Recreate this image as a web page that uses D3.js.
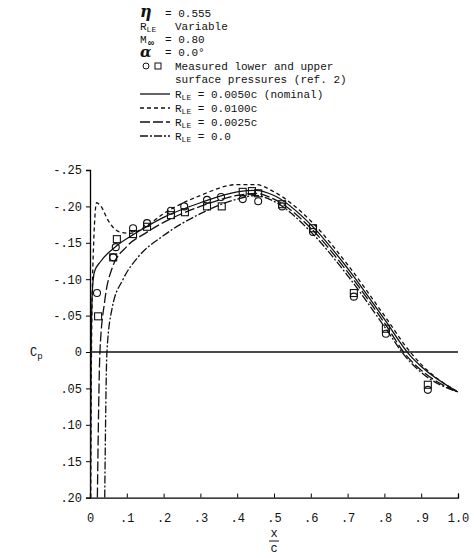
<!DOCTYPE html>
<html><head><meta charset="utf-8">
<script src="https://cdn.jsdelivr.net/npm/d3@7"></script>
<style>body{margin:0;background:#fff}text{font-family:"Liberation Mono",monospace;fill:#111}</style>
</head><body><div id="chart"></div>
<script>
const width = 474, height = 558;

// measured pressures (ref. 2)
const circles = [[0.019,-0.081],[0.063,-0.13],[0.07,-0.144],[0.117,-0.17],[0.155,-0.177],[0.22,-0.194],[0.256,-0.2],[0.318,-0.209],[0.356,-0.213],[0.415,-0.21],[0.457,-0.207],[0.522,-0.2],[0.606,-0.165],[0.717,-0.076],[0.804,-0.025],[0.918,0.052]];
const squares = [[0.022,-0.049],[0.063,-0.13],[0.073,-0.155],[0.117,-0.162],[0.155,-0.172],[0.22,-0.188],[0.258,-0.192],[0.318,-0.2],[0.358,-0.2],[0.415,-0.22],[0.44,-0.221],[0.457,-0.218],[0.522,-0.203],[0.606,-0.17],[0.717,-0.081],[0.804,-0.032],[0.918,0.045]];

// computed curves
const rle0050 = [[0.001,0.2],[0.003,0],[0.006,-0.08],[0.012,-0.11],[0.03,-0.125],[0.07,-0.145],[0.12,-0.162],[0.2,-0.185],[0.3,-0.205],[0.4,-0.22],[0.45,-0.222],[0.5,-0.215],[0.6,-0.175],[0.7,-0.115],[0.8,-0.045],[0.87,0.005],[0.9,0.02],[1.0,0.055]];
const rle0100 = [[0.002,0.2],[0.004,0],[0.01,-0.15],[0.018,-0.205],[0.03,-0.2],[0.05,-0.18],[0.08,-0.165],[0.11,-0.163],[0.15,-0.172],[0.2,-0.19],[0.3,-0.215],[0.4,-0.23],[0.45,-0.23],[0.5,-0.22],[0.6,-0.18],[0.7,-0.12],[0.8,-0.05],[0.87,0.0],[0.9,0.017],[1.0,0.055]];
const rle0025 = [[0.02,0.2],[0.027,0],[0.04,-0.07],[0.06,-0.115],[0.1,-0.145],[0.15,-0.163],[0.2,-0.178],[0.3,-0.2],[0.4,-0.215],[0.45,-0.218],[0.5,-0.21],[0.6,-0.17],[0.7,-0.11],[0.8,-0.04],[0.86,0.005],[0.9,0.025],[1.0,0.055]];
const rle0 = [[0.04,0.2],[0.046,0],[0.06,-0.06],[0.09,-0.1],[0.13,-0.13],[0.2,-0.16],[0.3,-0.19],[0.4,-0.21],[0.45,-0.215],[0.5,-0.207],[0.6,-0.165],[0.7,-0.105],[0.8,-0.035],[0.86,0.008],[0.9,0.028],[1.0,0.055]];

const xTicks = [0,0.1,0.2,0.3,0.4,0.5,0.6,0.7,0.8,0.9,1.0];
const yTicks = [-0.25,-0.2,-0.15,-0.1,-0.05,0,0.05,0.1,0.15,0.2];
const legendItems = [
  {label: "R", sub: "LE", rest: " = 0.0050c (nominal)", dash: null, data: rle0050},
  {label: "R", sub: "LE", rest: " = 0.0100c", dash: "4,3", data: rle0100},
  {label: "R", sub: "LE", rest: " = 0.0025c", dash: "10,3", data: rle0025},
  {label: "R", sub: "LE", rest: " = 0.0", dash: "8,2,2,2", data: rle0}
];

const svg = d3.select('#chart').append('svg').attr('width', width).attr('height', height);

const x = d3.scaleLinear().domain([0, 1]).range([90, 458]);
const y = d3.scaleLinear().domain([-0.25, 0.2]).range([170, 497.6]);

// axes
svg.append('g').attr('transform', `translate(90,0)`)
  .call(d3.axisLeft(y).tickValues(yTicks).tickSize(4).tickFormat(v => v === 0 ? '0' : (v < 0 ? '-' : '') + Math.abs(v).toFixed(2).replace(/^0/, '')))
  .call(g => g.select('.domain').attr('stroke-width', 1.3))
  .call(g => g.selectAll('text').style('font-size', '12px').attr('x', -8));
svg.append('g').attr('transform', `translate(0,${y(0.2)})`)
  .call(d3.axisTop(x).tickValues(xTicks).tickSize(4).tickFormat(v => v === 0 ? '0' : v === 1 ? '1.0' : String(v.toFixed(1)).replace(/^0/, '')))
  .call(g => g.select('.domain').attr('stroke-width', 1.3))
  .call(g => g.selectAll('text').style('font-size', '12px').attr('y', 24));
svg.append('line').attr('x1', x(0)).attr('x2', x(1)).attr('y1', y(0)).attr('y2', y(0)).attr('stroke', '#111').attr('stroke-width', 1.3);

// axis titles
svg.append('text').attr('x', 30).attr('y', y(0) + 4).style('font-size', '12px').text('C').append('tspan').attr('dy', 3).style('font-size', '9px').text('p');
svg.append('text').attr('x', x(0.5)).attr('y', 537).attr('text-anchor', 'middle').style('font-size', '12px').text('x');
svg.append('line').attr('x1', x(0.5) - 5).attr('x2', x(0.5) + 5).attr('y1', 541).attr('y2', 541).attr('stroke', '#111');
svg.append('text').attr('x', x(0.5)).attr('y', 552).attr('text-anchor', 'middle').style('font-size', '12px').text('c');

// curves
svg.append('clipPath').attr('id', 'c').append('rect').attr('x', 90).attr('y', 150).attr('width', 380).attr('height', 348);
const line = d3.line().x(d => x(d[0])).y(d => y(d[1])).curve(d3.curveMonotoneX);
legendItems.forEach(it => {
  svg.append('path').datum(it.data).attr('d', line).attr('fill', 'none').attr('stroke', '#111')
    .attr('stroke-width', 1.3).attr('stroke-dasharray', it.dash).attr('clip-path', 'url(#c)');
});

// measured points
svg.selectAll('.circ').data(circles).enter().append('circle').attr('cx', d => x(d[0])).attr('cy', d => y(d[1]))
  .attr('r', 3.5).attr('fill', 'none').attr('stroke', '#111').attr('stroke-width', 1.1);
svg.selectAll('.sq').data(squares).enter().append('rect').attr('x', d => x(d[0]) - 3.5).attr('y', d => y(d[1]) - 3.5)
  .attr('width', 7).attr('height', 7).attr('fill', 'none').attr('stroke', '#111').attr('stroke-width', 1.1);

// legend
const lg = svg.append('g').style('font-size', '11px');
lg.append('text').attr('x', 140).attr('y', 17).style('font-size', '16px').style('font-family', 'DejaVu Serif').style('font-style', 'italic').style('font-weight', 'bold').text('η');
lg.append('text').attr('x', 165).attr('y', 17).text('= 0.555');
lg.append('text').attr('x', 140).attr('y', 30).text('R').append('tspan').attr('dy', 2).style('font-size', '8px').text('LE');
lg.append('text').attr('x', 175).attr('y', 30).text('Variable');
lg.append('text').attr('x', 140).attr('y', 43).text('M');
lg.append('text').attr('x', 148).attr('y', 46).style('font-size', '10px').style('font-weight', 'bold').text('∞');
lg.append('text').attr('x', 165).attr('y', 43).text('= 0.80');
lg.append('text').attr('x', 140).attr('y', 57).style('font-size', '15px').style('font-family', 'DejaVu Serif').style('font-style', 'italic').style('font-weight', 'bold').text('α');
lg.append('text').attr('x', 165).attr('y', 56).text('= 0.0°');
lg.append('circle').attr('cx', 146).attr('cy', 66).attr('r', 3).attr('fill', 'none').attr('stroke', '#111');
lg.append('rect').attr('x', 155).attr('y', 63).attr('width', 6).attr('height', 6).attr('fill', 'none').attr('stroke', '#111');
lg.append('text').attr('x', 175).attr('y', 70).text('Measured lower and upper');
lg.append('text').attr('x', 175).attr('y', 83).text('surface pressures (ref. 2)');
legendItems.forEach((it, i) => {
  const yy = 98 + i * 14;
  lg.append('line').attr('x1', 140).attr('x2', 170).attr('y1', yy - 4).attr('y2', yy - 4).attr('stroke', '#111').attr('stroke-width', 1.3).attr('stroke-dasharray', it.dash);
  const t = lg.append('text').attr('x', 175).attr('y', yy).text(it.label);
  t.append('tspan').attr('dy', 2).style('font-size', '8px').text(it.sub);
  t.append('tspan').attr('dy', -2).text(it.rest);
});
</script></body></html>
